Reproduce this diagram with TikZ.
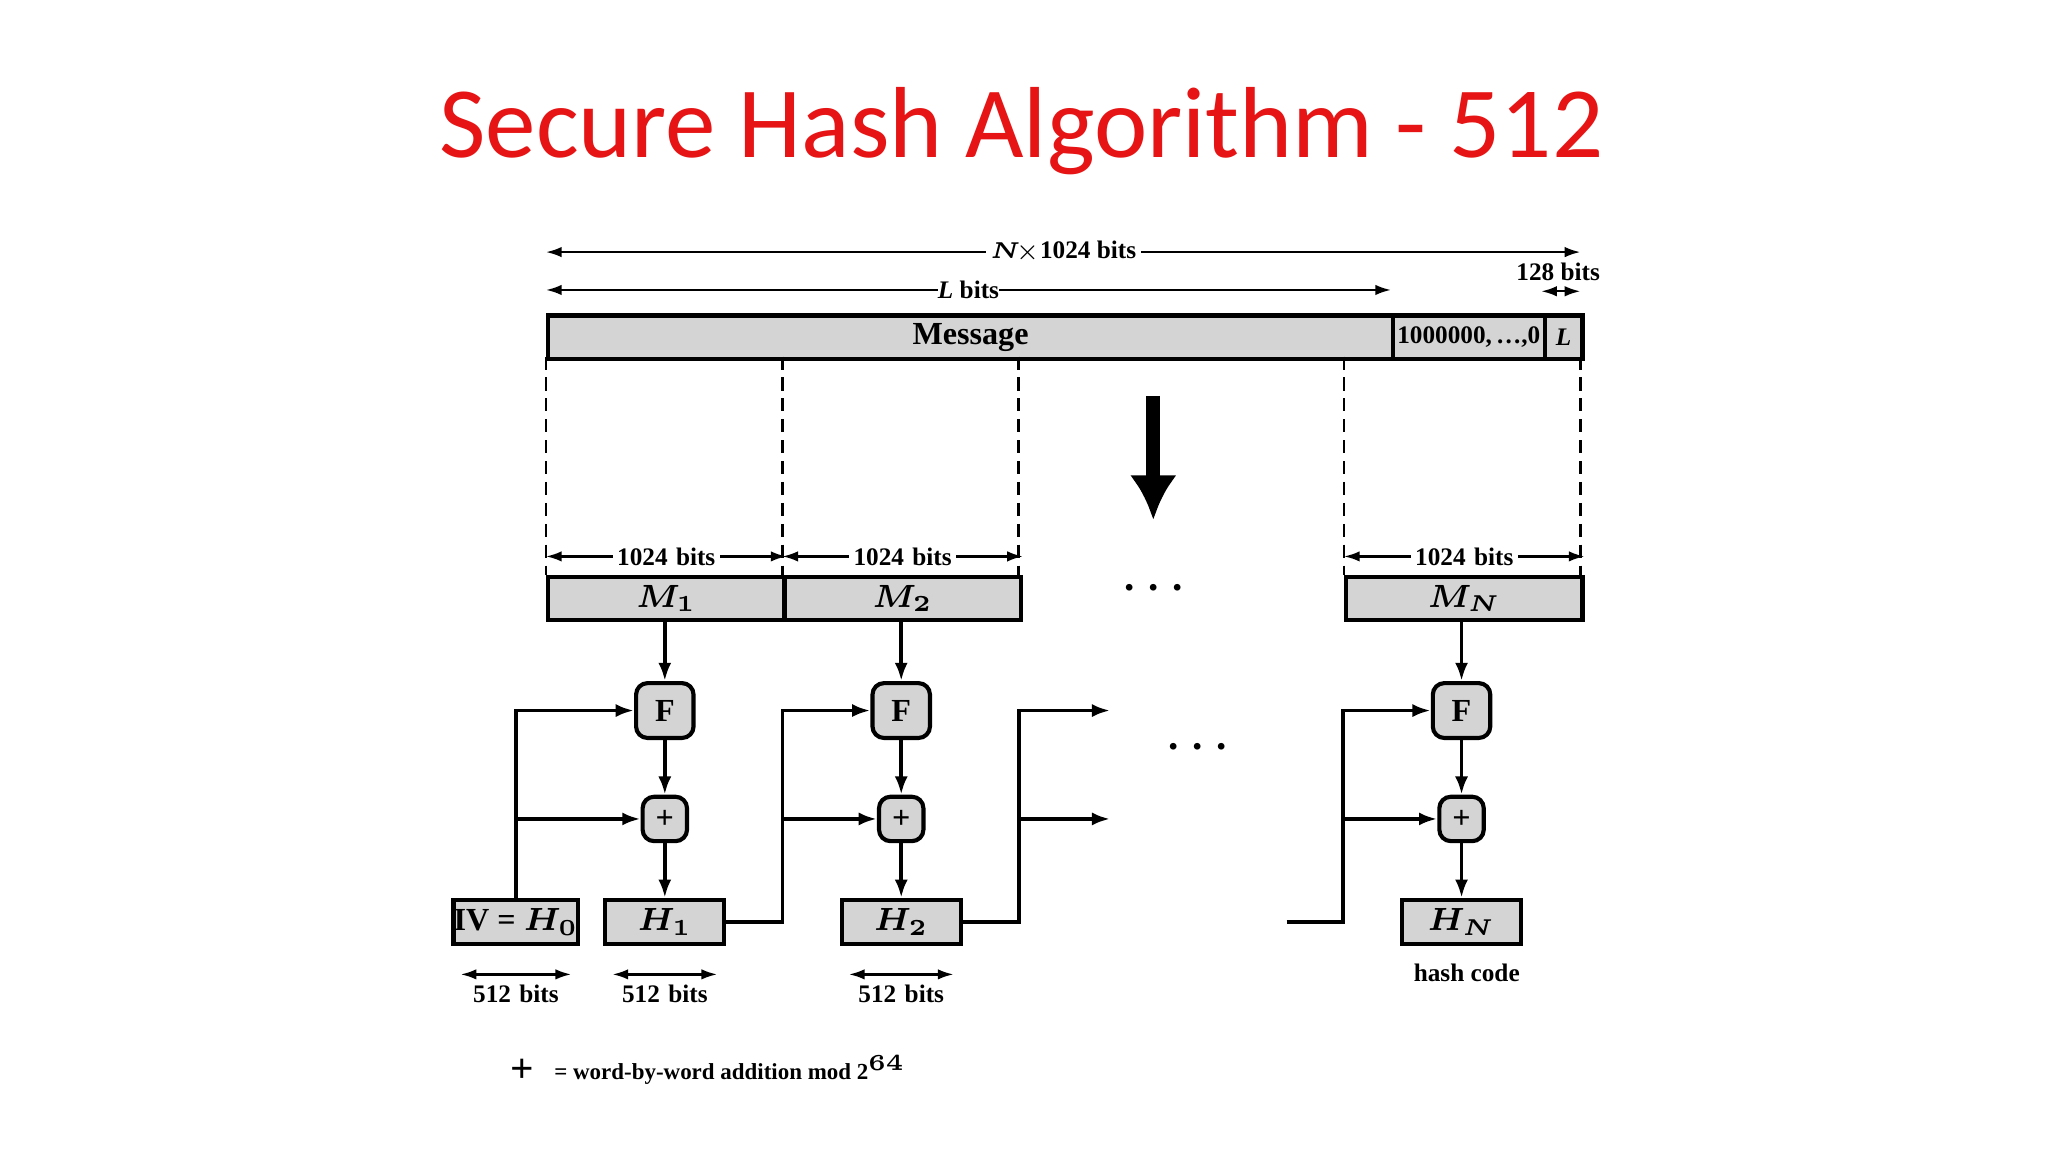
\documentclass[tikz,border=0pt]{standalone}
\usepackage{amsmath}
\usepackage{fontspec}
\setmainfont{Liberation Serif}
\newfontfamily\titlefont{Carlito}
\usetikzlibrary{arrows.meta}
\definecolor{boxgray}{RGB}{212,212,212}
\definecolor{titlered}{RGB}{230,20,20}
\begin{document}
\begin{tikzpicture}[
            x=0.1mm, y=-0.1mm,
            block/.style={draw, line width=0.9pt, fill=boxgray, inner sep=0pt, font=\bfseries\fontsize{7}{8}\selectfont},
            fbox/.style={block, rounded corners=2.5pt, minimum width=4.4mm, minimum height=4.2mm},
            pbox/.style={block, rounded corners=2.5pt, minimum width=3.4mm, minimum height=3.4mm},
            hbox/.style={block, minimum width=9.1mm, minimum height=3.4mm},
            bitslabel/.style={font=\bfseries\fontsize{5.5}{6}\selectfont, fill=white, inner sep=1pt},
            dim/.style={draw, line width=0.5pt, {Latex[length=1.2mm,width=0.8mm]}-{Latex[length=1.2mm,width=0.8mm]}},
            flow/.style={draw, line width=0.8pt, -{Latex[length=1.4mm,width=1mm]}},
            splitline/.style={draw, line width=0.6pt, dash pattern=on 1mm off 0.6mm}
        ]
        \useasboundingbox (0,0) rectangle (1568,882);

        % Title
        \node[text=titlered, font=\titlefont\fontsize{22}{26}\selectfont] (title) at (782,100) {Secure Hash Algorithm - 512};

        % Top dimension lines
        \coordinate (nl) at (418,193); \coordinate (nr) at (1210,193);
        \draw[dim] (nl) -- node[bitslabel] {$\boldsymbol{N}\!\times$1024 bits} (nr);
        \coordinate (ll) at (418,222); \coordinate (lr) at (1065,222);
        \draw[dim] (ll) -- node[bitslabel, inner sep=0pt] {\textit{L} bits} (lr);
        \node[bitslabel] (lenlab) at (1193,208) {128 bits};
        \coordinate (tl) at (1180,223); \coordinate (tr) at (1210,223);
        \draw[dim] (tl) -- (tr);

        % Message bar
        \node[block, minimum width=64.7mm, minimum height=3.3mm, anchor=north west] (msg) at (418,240) {Message};
        \node[block, minimum width=11.6mm, minimum height=3.3mm, anchor=north west, font=\bfseries\fontsize{5.5}{6}\selectfont] (pad) at (1065,240) {1000000,\,\dots,0};
        \node[block, minimum width=2.9mm, minimum height=3.3mm, anchor=north west, font=\bfseries\itshape\fontsize{5.5}{6}\selectfont] (len) at (1181,240) {L};

        % Message blocks
        \node[block, minimum width=18.1mm, minimum height=3.3mm, anchor=north west] (m1) at (418,440) {$\boldsymbol{M_1}$};
        \node[block, minimum width=18.1mm, minimum height=3.3mm, anchor=north west] (m2) at (599,440) {$\boldsymbol{M_2}$};
        \node[block, minimum width=18.1mm, minimum height=3.3mm, anchor=north west] (mn) at (1029,440) {$\boldsymbol{M_N}$};
        \node[font=\bfseries\fontsize{9}{9}\selectfont] (dotsa) at (883,450) {.\,\,.\,\,.};

        % Dashed splits
        \foreach \xx in {418,599,780,1029,1210}
            \draw[splitline] (\xx,273) -- (\xx,440);
        \coordinate (bigtop) at (883,303); \coordinate (bigbot) at (883,398);
        \draw[line width=3pt, -{Latex[length=3.4mm,width=3.6mm]}] (bigtop) -- (bigbot);

        % 1024 bits
        \path (m1.north west) ++(0,-14) coordinate (a1) (m1.north east) ++(0,-14) coordinate (b1);
        \draw[dim] (a1) -- node[bitslabel] {1024\,\,bits} (b1);
        \path (m2.north west) ++(0,-14) coordinate (a2) (m2.north east) ++(0,-14) coordinate (b2);
        \draw[dim] (a2) -- node[bitslabel] {1024\,\,bits} (b2);
        \path (mn.north west) ++(0,-14) coordinate (an) (mn.north east) ++(0,-14) coordinate (bn);
        \draw[dim] (an) -- node[bitslabel] {1024\,\,bits} (bn);

        % Compression stages
        \node[fbox] (f1) at (509,544) {F};
        \node[fbox] (f2) at (690,544) {F};
        \node[fbox] (fn) at (1119,544) {F};
        \node[pbox] (p1) at (509,627) {+};
        \node[pbox] (p2) at (690,627) {+};
        \node[pbox] (pn) at (1119,627) {+};
        \node[hbox] (h0) at (395,706) {IV = $\boldsymbol{H_0}$};
        \node[hbox] (h1) at (509,706) {$\boldsymbol{H_1}$};
        \node[hbox] (h2) at (690,706) {$\boldsymbol{H_2}$};
        \node[hbox] (hn) at (1119,706) {$\boldsymbol{H_N}$};
        \node[font=\bfseries\fontsize{9}{9}\selectfont] (dotsb) at (917,572) {.\,\,.\,\,.};

        \foreach \mm/\ff/\pp/\hh in {m1/f1/p1/h1, m2/f2/p2/h2, mn/fn/pn/hn} {
            \draw[flow] (\mm.south -| \ff) -- (\ff);
            \draw[flow] (\ff) -- (\pp);
            \draw[flow] (\pp) -- (\hh);
        }

        % Chaining
        \draw[flow] (h0.north) |- (f1.west);
        \draw[flow] (395,627) -- (p1.west);
        \draw[flow] (h1.east) -| (599,544) -- (f2.west);
        \draw[flow] (599,627) -- (p2.west);
        \coordinate (o1) at (850,544); \coordinate (o2) at (850,627);
        \draw[flow] (h2.east) -| (780,544) -- (o1);
        \draw[flow] (780,627) -- (o2);
        \coordinate (inn) at (985,706);
        \draw[flow] (inn) -| (1028,544) -- (fn.west);
        \draw[flow] (1028,627) -- (pn.west);

        % 512 bits
        \coordinate (ybar) at (0,746);
        \coordinate (ytxt) at (0,761);
        \foreach \hh in {h0,h1,h2} {
            \draw[dim] ([xshift=2]\hh.west |- ybar) -- ([xshift=-2]\hh.east |- ybar);
            \node[bitslabel] at (\hh |- ytxt) {512\,\,bits};
        }
        \node[bitslabel] (hash) at (1123,745) {hash code};

        % Legend
        \node[font=\bfseries\fontsize{9}{9}\selectfont] (plus) at (400,820) {+};
        \node[anchor=west, font=\bfseries\fontsize{5}{6}\selectfont] (legend) at (412,819) {= word-by-word addition mod 2$^{\boldsymbol{64}}$};
    \end{tikzpicture}
\end{document}
